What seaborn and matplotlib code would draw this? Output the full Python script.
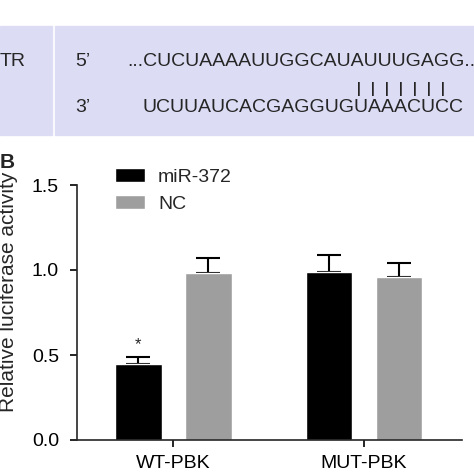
import matplotlib
matplotlib.use("Agg")
import matplotlib.pyplot as plt
from matplotlib.patches import Rectangle
import seaborn as sns
import pandas as pd

# data
groups = ["WT-PBK", "MUT-PBK"]
treatments = ["miR-372", "NC"]
mir_mean = [0.45, 0.99]
mir_sem = [0.04, 0.10]
nc_mean = [0.98, 0.96]
nc_sem = [0.09, 0.08]
seq_5 = "...CUCUAAAAUUGGCAUAUUUGAGG.."
seq_3 = "UCUUAUCACGAGGUGUAAACUCC"
n_pairs = 7

sns.set_style("ticks")
plt.rcParams["font.family"] = ["Liberation Sans", "DejaVu Sans"]

df = pd.DataFrame({
    "group": groups * 2,
    "treatment": [treatments[0]] * 2 + [treatments[1]] * 2,
    "value": mir_mean + nc_mean,
    "sem": mir_sem + nc_sem,
})

W = H = 474
fig = plt.figure(figsize=(4.74, 4.74), dpi=100)

def fx(px):
    return px / W

def fy(py):
    return 1 - py / H

# top panel: lavender boxes with the sequence alignment
lav = "#dcddf5"
fig.patches.append(Rectangle((0, fy(135)), fx(52), 109 / H, color=lav,
                             transform=fig.transFigure, zorder=0))
fig.patches.append(Rectangle((fx(55), fy(135)), 1 - fx(55), 109 / H, color=lav,
                             transform=fig.transFigure, zorder=0))
fig.text(fx(0), fy(62), "TR", fontsize=14, va="center", ha="left")
fig.text(fx(75), fy(62), "5\u2019", fontsize=14, va="center", ha="left")
fig.text(fx(75), fy(108), "3\u2019", fontsize=14, va="center", ha="left")
fig.text(fx(127), fy(62), seq_5, fontsize=14, va="center", ha="left")
fig.text(fx(143), fy(108), seq_3, fontsize=14, va="center", ha="left")
for i in range(n_pairs):
    fig.text(fx(358.5 + i * 14.0), fy(89), "|", fontsize=10, fontweight="bold",
             va="center", ha="center")

# panel B
fig.text(fx(0), fy(163), "B", fontsize=15, fontweight="bold", va="center", ha="left")

ax = fig.add_axes([fx(77), fy(440), 385 / W, 255 / H])
sns.barplot(data=df, x="group", y="value", hue="treatment", order=groups,
            hue_order=treatments, palette=["#000000", "#9e9e9e"],
            width=0.733, gap=0.33, errorbar=None, saturation=1, ax=ax)

for cont, err in zip(ax.containers, [mir_sem, nc_sem]):
    xs = [b.get_x() + b.get_width() / 2 for b in cont]
    ys = [b.get_height() for b in cont]
    ax.errorbar(xs, ys, yerr=[[0] * len(err), err], fmt="none", ecolor="black",
                elinewidth=1.5, capsize=8.3, capthick=1.5, zorder=1)
    for b in cont:
        b.set_zorder(2)

# significance mark on WT miR-372
b0 = ax.containers[0][0]
ax.text(b0.get_x() + b0.get_width() / 2, mir_mean[0] + mir_sem[0] + 0.025, "*",
        ha="center", va="bottom", fontsize=12)

ax.set_ylim(0, 1.5)
ax.set_xlim(-0.503, 1.513)
ax.set_yticks([0.0, 0.5, 1.0, 1.5])
ax.set_yticklabels(["0.0", "0.5", "1.0", "1.5"])
ax.set_xlabel("")
ax.set_ylabel("Relative luciferase activity", fontsize=15)
ax.yaxis.set_label_coords(-0.153, 0.581)
sns.despine(ax=ax)
for s in ["left", "bottom"]:
    ax.spines[s].set_linewidth(1.2)
ax.tick_params(axis="both", labelsize=14, width=1.2, length=5, colors="black")
ax.tick_params(axis="y", pad=8)
ax.tick_params(axis="x", pad=6)

handles, labels = ax.get_legend_handles_labels()
ax.legend(handles, labels, loc="upper left", frameon=False, fontsize=14,
          bbox_to_anchor=(fx(115), fy(168)), bbox_transform=fig.transFigure,
          borderpad=0, borderaxespad=0, handlelength=1.55, handleheight=0.72,
          handletextpad=0.67, labelspacing=0.5)

fig.savefig("out.png", dpi=100)
